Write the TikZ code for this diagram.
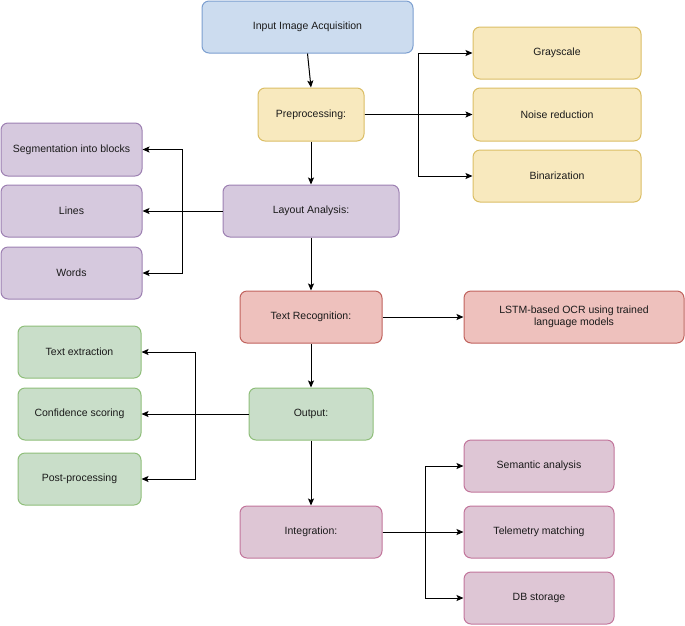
\documentclass[tikz,border=0pt]{standalone}
\usepackage{fontspec}
\setmainfont{Liberation Sans}
\usetikzlibrary{arrows.meta}
\definecolor{bluef}{HTML}{CCDCEF}\definecolor{blued}{HTML}{7C9FD0}
\definecolor{yelf}{HTML}{F8E9BE}\definecolor{yeld}{HTML}{DBBE66}
\definecolor{purf}{HTML}{D6C9DE}\definecolor{purd}{HTML}{9D80B2}
\definecolor{redf}{HTML}{EEC1BD}\definecolor{redd}{HTML}{C0625D}
\definecolor{grnf}{HTML}{C9DEC9}\definecolor{grnd}{HTML}{8FBE7A}
\definecolor{pnkf}{HTML}{DEC6D5}\definecolor{pnkd}{HTML}{C2759B}
\definecolor{txt}{HTML}{1A1A1A}
\tikzset{
  box/.style={rectangle, rounded corners=7pt, line width=1pt, inner sep=2pt,
    text=txt, align=center, font=\fontsize{10.5}{12.5}\selectfont},
  bluebox/.style={box, draw=blued, fill=bluef},
  yelbox/.style={box, draw=yeld, fill=yelf},
  purbox/.style={box, draw=purd, fill=purf},
  redbox/.style={box, draw=redd, fill=redf},
  grnbox/.style={box, draw=grnd, fill=grnf},
  pnkbox/.style={box, draw=pnkd, fill=pnkf},
  arr/.style={draw=black, line width=1pt, -{Stealth[length=7pt,width=6pt,inset=1.5pt]}}
}
\newcommand{\bx}[7]{\node[#1, minimum width=#4pt, minimum height=#5pt] (#2) at (#3) {#6};}
\begin{document}
\begin{tikzpicture}[x=1pt,y=-1pt]
\useasboundingbox (0,0) rectangle (685,625);
% main chain
\node[bluebox, minimum width=211pt, minimum height=52pt] (inp) at (307.5,27) {Input Image Acquisition};
\node[yelbox, minimum width=106pt, minimum height=53pt] (pre) at (311,114.5) {Preprocessing:};
\node[purbox, minimum width=176pt, minimum height=52pt] (lay) at (311,211) {Layout Analysis:};
\node[redbox, minimum width=142pt, minimum height=52pt] (rec) at (311,317) {Text Recognition:};
\node[grnbox, minimum width=124pt, minimum height=52pt] (out) at (311,414) {Output:};
\node[pnkbox, minimum width=142pt, minimum height=52pt] (int) at (311,532) {Integration:};
% preprocessing branch
\node[yelbox, minimum width=168pt, minimum height=52pt] (gray) at (557,53) {Grayscale};
\node[yelbox, minimum width=168pt, minimum height=53pt] (noise) at (557,114.5) {Noise reduction};
\node[yelbox, minimum width=168pt, minimum height=52pt] (bin) at (557,176) {Binarization};
% layout branch
\node[purbox, minimum width=141pt, minimum height=53pt] (seg) at (71.5,149.5) {Segmentation into blocks};
\node[purbox, minimum width=141pt, minimum height=52pt] (lines) at (71.5,211) {Lines};
\node[purbox, minimum width=141pt, minimum height=52pt] (words) at (71.5,273) {Words};
% recognition branch
\node[redbox, minimum width=220pt, minimum height=52pt] (lstm) at (574,317) {LSTM-based OCR using trained\\language models};
% output branch
\node[grnbox, minimum width=123pt, minimum height=52pt] (ext) at (79.5,352) {Text extraction};
\node[grnbox, minimum width=123pt, minimum height=52pt] (conf) at (79.5,414) {Confidence scoring};
\node[grnbox, minimum width=123pt, minimum height=52pt] (post) at (79.5,479) {Post-processing};
% integration branch
\node[pnkbox, minimum width=150pt, minimum height=52pt] (sem) at (539,466) {Semantic analysis};
\node[pnkbox, minimum width=150pt, minimum height=52pt] (tele) at (539,532) {Telemetry matching};
\node[pnkbox, minimum width=150pt, minimum height=52pt] (db) at (539,598) {DB storage};
% branch points
\coordinate (pj) at (418,114.5);
\coordinate (lj) at (182,211);
\coordinate (oj) at (195,414);
\coordinate (ij) at (425,532);
% connectors
\draw[arr] (inp.south) -- (pre.north);
\draw[arr] (pre.south) -- (lay.north);
\draw[arr] (lay.south) -- (rec.north);
\draw[arr] (rec.south) -- (out.north);
\draw[arr] (out.south) -- (int.north);
\draw[arr] (pre.east) -- (noise.west);
\draw[arr] (pre.east) -- (pj) |- (gray.west);
\draw[arr] (pre.east) -- (pj) |- (bin.west);
\draw[arr] (lay.west) -- (lines.east);
\draw[arr] (lay.west) -- (lj) |- (seg.east);
\draw[arr] (lay.west) -- (lj) |- (words.east);
\draw[arr] (rec.east) -- (lstm.west);
\draw[arr] (out.west) -- (conf.east);
\draw[arr] (out.west) -- (oj) |- (ext.east);
\draw[arr] (out.west) -- (oj) |- (post.east);
\draw[arr] (int.east) -- (tele.west);
\draw[arr] (int.east) -- (ij) |- (sem.west);
\draw[arr] (int.east) -- (ij) |- (db.west);
\end{tikzpicture}
\end{document}
